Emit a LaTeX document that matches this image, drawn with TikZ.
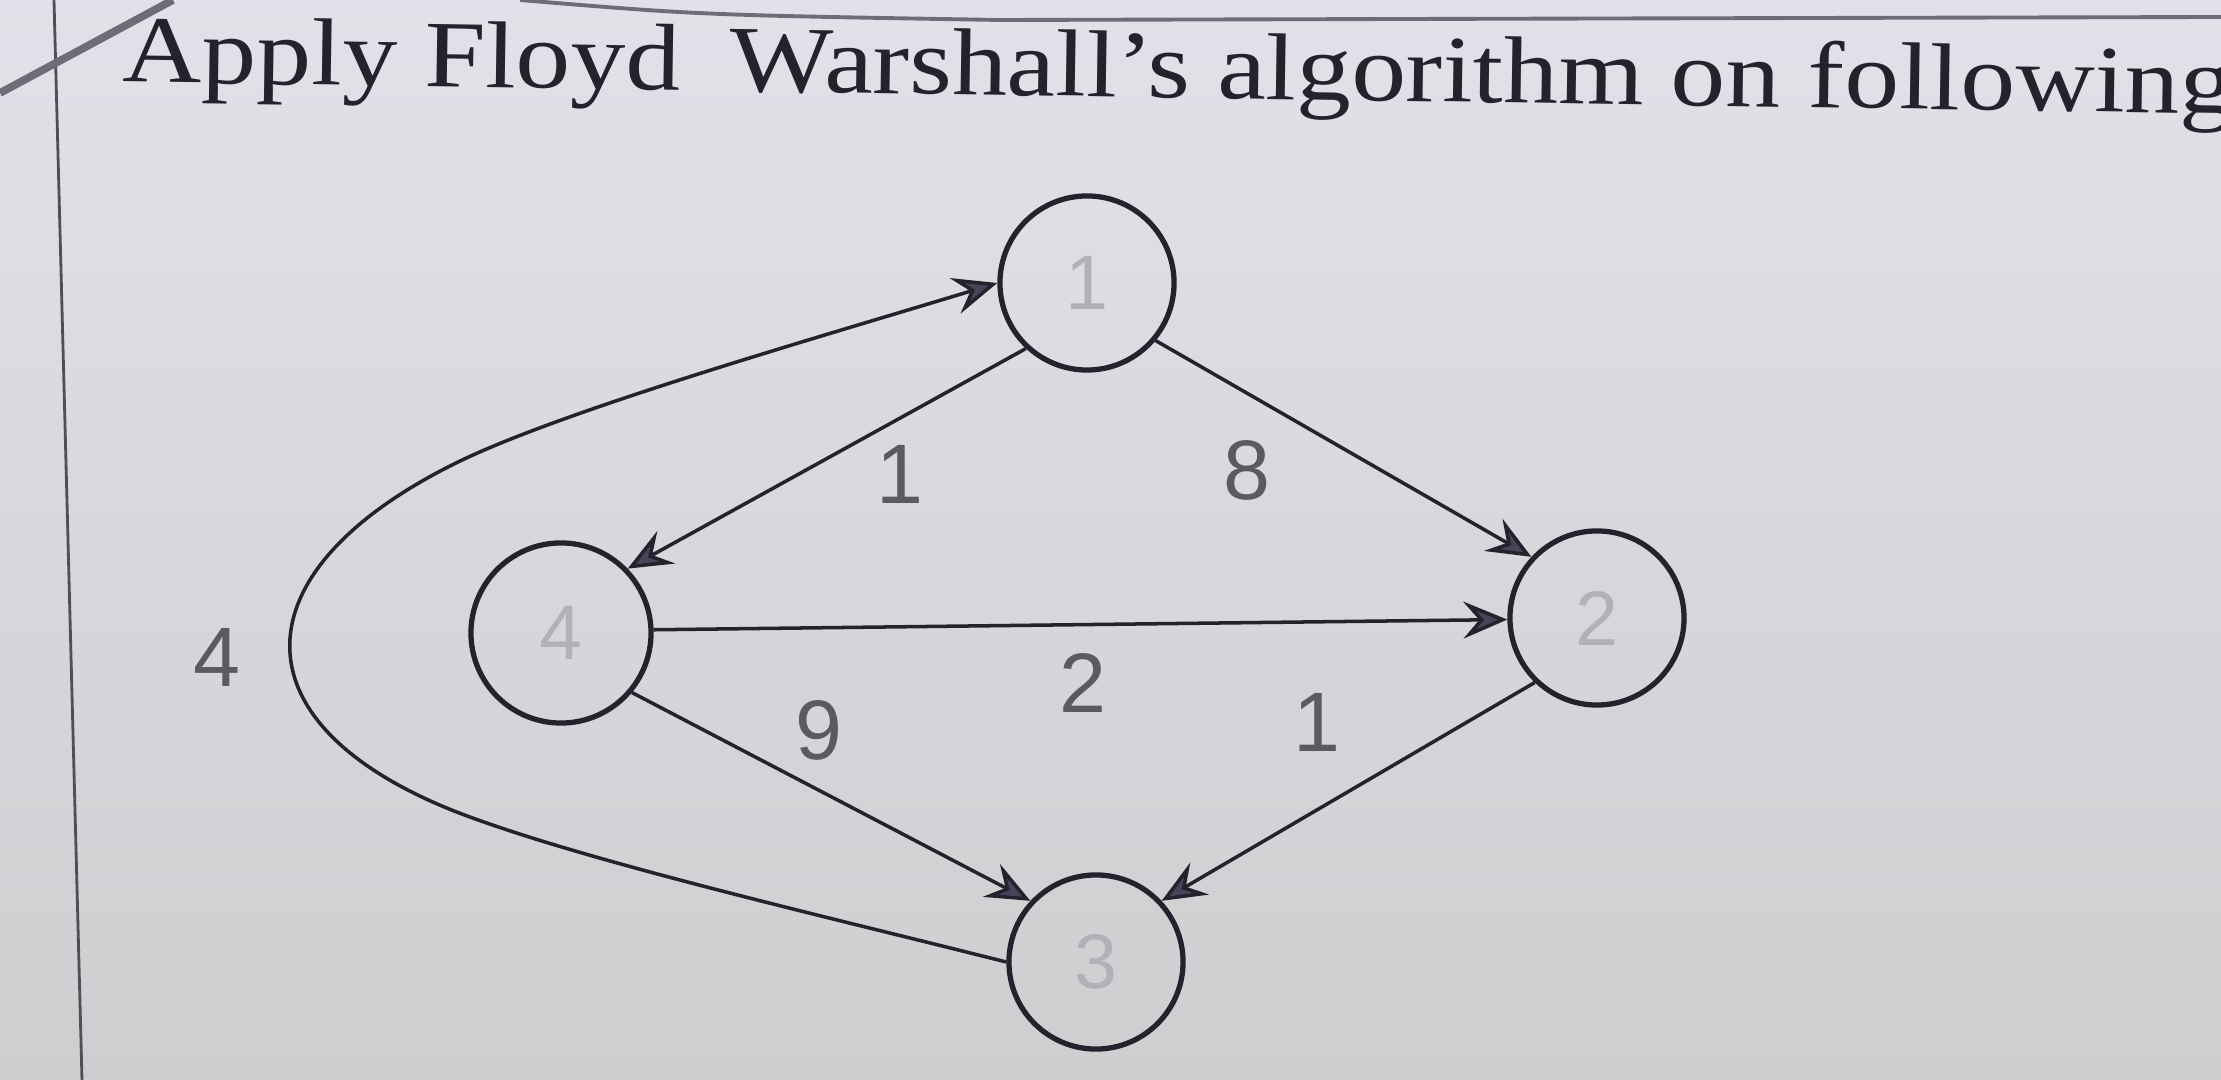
\documentclass[tikz,border=0pt]{standalone}
\usepackage{fontspec}
\setmainfont{Liberation Serif}
\newfontfamily\arialf{Liberation Sans}
\usetikzlibrary{arrows.meta}
\definecolor{bgtop}{RGB}{228,224,233}
\definecolor{bgbot}{RGB}{206,206,208}
\definecolor{ink}{RGB}{35,35,45}
\definecolor{faint}{RGB}{178,176,185}
\definecolor{headc}{RGB}{70,68,88}
\definecolor{rule}{RGB}{110,108,118}
\begin{document}
\begin{tikzpicture}[x=0.01cm,y=-0.01cm,
  vertex/.style={circle, draw=ink, line width=1.5pt, minimum size=1.74cm, inner sep=0pt,
    font=\arialf\fontsize{22}{22}\selectfont, text=faint},
  edge/.style={draw=ink, line width=1pt, -{Stealth[length=4.4mm,width=3.7mm,inset=1.6mm,fill=headc]}},
  wlabel/.style={font=\arialf\fontsize{24}{24}\selectfont, text=ink!75, inner sep=0pt}]
\useasboundingbox (0,0) rectangle (2221,1080);
\shade[top color=bgtop, bottom color=bgbot] (0,0) rectangle (2221,1080);
% paper rulings
\draw[line width=0.8pt, ink!80] (54,0) -- (82,1080);
\draw[line width=2.2pt, rule] (0,93) -- (173,0);
\draw[line width=1.1pt, rule] (520,0) .. controls (700,15) .. (1000,20) -- (2221,17);
% title
\node[anchor=base west, inner sep=0pt, text=ink, rotate=-0.86] (title) at (122,82)
  {\scalebox{1.155}[1]{\fontsize{27}{27}\selectfont Apply Floyd\hspace{0.45em}Warshall’s algorithm on following}};
% vertices
\node[vertex] (n1) at (1087,283) {1};
\node[vertex] (n2) at (1597,618) {2};
\node[vertex] (n3) at (1096,962) {3};
\node[vertex, minimum size=1.8cm] (n4) at (561,633) {4};
% edges
\draw[edge] (n1.227) -- (n4.44);
\draw[edge] (n1.320) -- (n2.137);
\draw[edge] (n4.2) -- (n2.181);
\draw[edge] (n4.320) -- (n3.137);
\draw[edge] (n2.226) -- (n3.43);
\draw[edge] (n3.west) .. controls (820,915) and (580,860) .. (454,811)
  .. controls (231,722) and (239,571) .. (454,464)
  .. controls (560,411) and (820,337) .. (n1.west);
% weights
\node[wlabel] (w31) at (217,657) {4};
\node[wlabel] (w14) at (900,474) {1};
\node[wlabel] (w12) at (1247,470) {8};
\node[wlabel] (w42) at (1083,683) {2};
\node[wlabel] (w43) at (819,730) {9};
\node[wlabel] (w23) at (1317,722) {1};
\end{tikzpicture}
\end{document}
